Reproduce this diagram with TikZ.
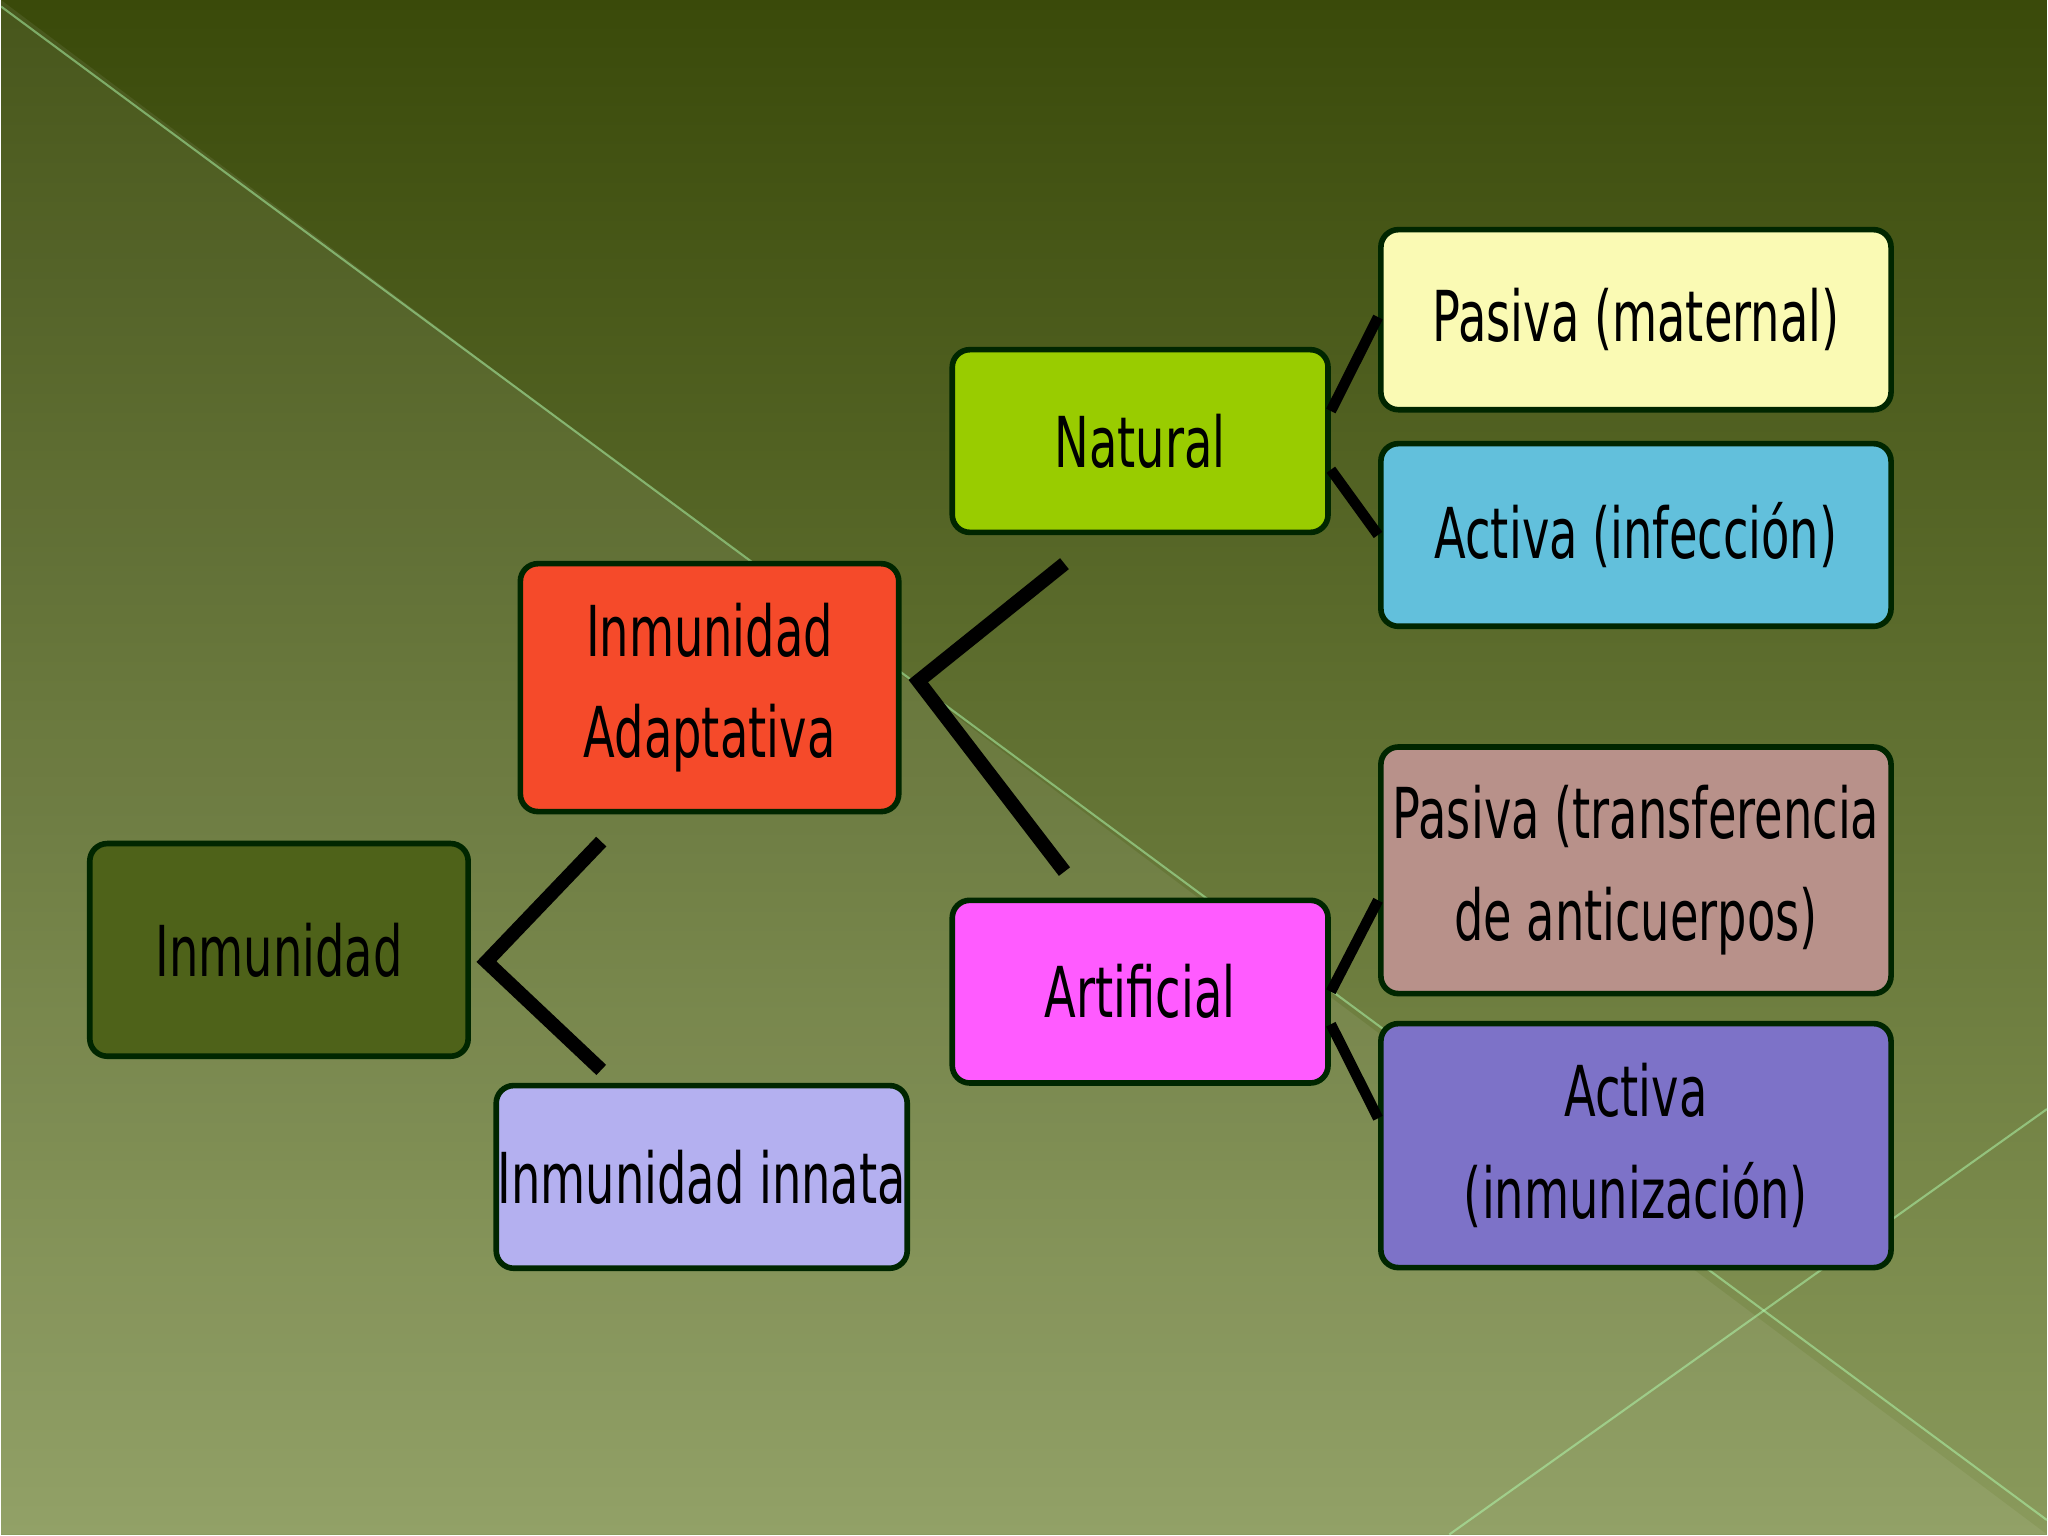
\documentclass[tikz,border=0pt]{standalone}
\usepackage{fontspec}
\setmainfont[FakeStretch=0.66]{DejaVu Sans}
\begin{document}
\begin{tikzpicture}[x=0.01306cm,y=-0.01306cm,
  box/.style={draw=black!85!green,line width=1.6pt,rounded corners=5pt,inner sep=0pt,align=center,font=\fontsize{20}{29}\selectfont},
  br/.style={line width=4pt,black}]
\definecolor{bgtop}{HTML}{3A4A0A}
\definecolor{bgbot}{HTML}{8A9A5C}
\definecolor{cinm}{HTML}{4E6219}
\definecolor{cada}{HTML}{F54A2A}
\definecolor{cinn}{HTML}{B4B0F0}
\definecolor{cnat}{HTML}{99CC00}
\definecolor{cart}{HTML}{FF5BFF}
\definecolor{cpm}{HTML}{FAFAB4}
\definecolor{cai}{HTML}{62C0DC}
\definecolor{cpt}{HTML}{B8918A}
\definecolor{caim}{HTML}{7D72C8}
\shade[top color=bgtop,bottom color=bgbot] (0,0) rectangle (1568,1176);
\fill[white,opacity=0.07] (0,0) -- (1568,1176) -- (0,1176) -- cycle;
\draw[white!70!green,opacity=0.5,line width=0.6pt] (0,5) -- (1568,1165);
\draw[white!70!green,opacity=0.5,line width=0.6pt] (1110,1176) -- (1568,850);
\useasboundingbox (0,0) rectangle (1568,1176);
\newcommand\bx[7]{\node[box,fill=#6,minimum width=#4*0.01306cm,minimum height=#5*0.01306cm] (#1) at (#2,#3) {#7};}
\bx{inm}{213}{728}{290}{163}{cinm}{Inmunidad}
\bx{ada}{543}{527}{290}{190}{cada}{Inmunidad\\Adaptativa}
\bx{inn}{537}{902}{315}{140}{cinn}{Inmunidad innata}
\bx{nat}{873}{338}{288}{140}{cnat}{Natural}
\bx{art}{873}{760}{288}{140}{cart}{Artificial}
\bx{pm}{1253}{245}{391}{138}{cpm}{Pasiva (maternal)}
\bx{ai}{1253}{410}{391}{140}{cai}{Activa (infección)}
\bx{pt}{1253}{667}{391}{189}{cpt}{Pasiva (transferencia\\de anticuerpos)}
\bx{aim}{1253}{878}{391}{187}{caim}{Activa\\(inmunización)}
\coordinate (b1) at (372,737);
\draw[br] (460,645) -- (b1) -- (460,820);
\coordinate (b2) at (703,522);
\draw[br] (815,432) -- (b2) -- (815,668);
\draw[line width=3pt] (nat.east|-0,315) -- (pm.west|-0,243);
\draw[line width=3pt] (nat.east|-0,360) -- (ai.west|-0,410);
\draw[line width=3pt] (art.east|-0,760) -- (pt.west|-0,690);
\draw[line width=3pt] (art.east|-0,785) -- (aim.west|-0,857);
\end{tikzpicture}
\end{document}
